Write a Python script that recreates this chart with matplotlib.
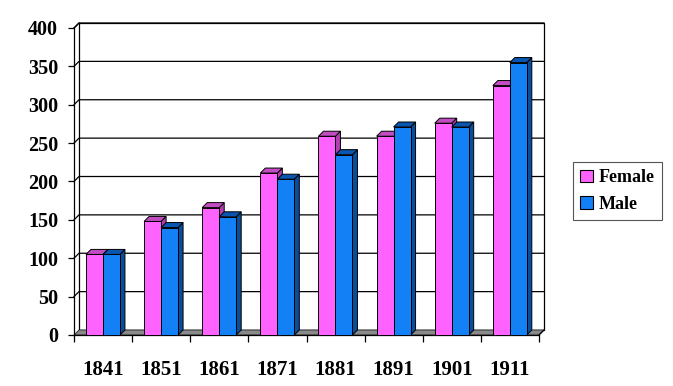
import matplotlib
matplotlib.use("Agg")
import matplotlib.pyplot as plt
from matplotlib.patches import Polygon, Patch

years = ["1841", "1851", "1861", "1871", "1881", "1891", "1901", "1911"]
female = [105, 148, 166, 211, 259, 259, 276, 325]
male = [105, 140, 154, 203, 235, 271, 271, 355]
yticks = [0, 50, 100, 150, 200, 250, 300, 350, 400]

W, H = 673, 386
fig = plt.figure(figsize=(W / 100, H / 100), dpi=100)
left_px, right_px, bot_px, top_px = 74, 539, 335, 28
ax = fig.add_axes([left_px / W, 1 - bot_px / H, (right_px - left_px) / W, (bot_px - top_px) / H])
n = len(years)
ymax = 400
ax.set_xlim(0, n)
ax.set_ylim(0, ymax)

# depth offsets in data units
dpx = 5.0
dx = dpx / (right_px - left_px) * n
dy = dpx / (bot_px - top_px) * ymax

font = "Liberation Serif"

# back wall
ax.add_patch(Polygon([(dx, dy), (n + dx, dy), (n + dx, ymax + dy), (dx, ymax + dy)],
                     closed=True, facecolor="white", edgecolor="black", lw=0.9, zorder=1, clip_on=False))
for v in yticks[1:]:
    ax.plot([0, dx, n + dx], [v, v + dy, v + dy], color="black", lw=0.9, zorder=1.5, clip_on=False)
# floor
ax.add_patch(Polygon([(0, 0), (n, 0), (n + dx, dy), (dx, dy)], closed=True,
                     facecolor="#8a8a8a", edgecolor="#333333", lw=0.7, zorder=2, clip_on=False))
ax.plot([0, dx], [ymax, ymax + dy], color="black", lw=0.9, zorder=2, clip_on=False)
ax.plot([n, n + dx], [0, dy], color="black", lw=0.9, zorder=2, clip_on=False)

bw = 17.0 / 58.2
off = 12.0 / 58.2
series = [
    (female, "#ff63ff", "#c24dc2", "#b040b0", 0),
    (male, "#1480f5", "#0a55b0", "#0a4d9c", 1),
]
for i in range(n):
    for vals, front, top, side, k in series:
        x0 = i + off + k * bw
        x1 = x0 + bw
        v = vals[i]
        z = 3 + i * 0.1 + k * 0.01
        ax.add_patch(Polygon([(x1, 0), (x1 + dx, dy), (x1 + dx, v + dy), (x1, v)], closed=True,
                             facecolor=side, edgecolor="black", lw=0.7, zorder=z, clip_on=False))
        ax.add_patch(Polygon([(x0, v), (x1, v), (x1 + dx, v + dy), (x0 + dx, v + dy)], closed=True,
                             facecolor=top, edgecolor="black", lw=0.7, zorder=z, clip_on=False))
        ax.add_patch(Polygon([(x0, 0), (x1, 0), (x1, v), (x0, v)], closed=True,
                             facecolor=front, edgecolor="black", lw=0.7, zorder=z + 0.005, clip_on=False))

for s in ["top", "right"]:
    ax.spines[s].set_visible(False)
ax.spines["left"].set_linewidth(0.9)
ax.spines["bottom"].set_linewidth(0.9)
ax.spines["left"].set_zorder(2.5)
ax.spines["bottom"].set_zorder(2.5)
ax.patch.set_visible(False)

ax.set_yticks(yticks)
ax.set_yticklabels([str(v) for v in yticks], fontfamily=font, fontweight="bold", fontsize=14.5)
ax.tick_params(axis="y", direction="out", length=4.5, width=0.9, pad=7)

ax.set_xticks(range(n + 1))
ax.set_xticklabels([])
ax.set_xticks([i + 0.5 for i in range(n)], minor=True)
ax.set_xticklabels(years, minor=True, fontfamily=font, fontweight="bold", fontsize=15)
ax.tick_params(axis="x", which="major", direction="out", length=5, width=0.9)
ax.tick_params(axis="x", which="minor", length=0, pad=18)

handles = [Patch(facecolor="#ff63ff", edgecolor="black", lw=0.8, label="Female"),
           Patch(facecolor="#1480f5", edgecolor="black", lw=0.8, label="Male")]
leg = fig.legend(handles=handles, loc="center", bbox_to_anchor=(617.5 / W, 1 - 191 / H),
                 prop={"family": font, "weight": "bold", "size": 13},
                 fancybox=False, frameon=True, edgecolor="#555555", framealpha=1,
                 handlelength=0.7, handleheight=0.7, handletextpad=0.3,
                 borderpad=0.4, labelspacing=0.5, borderaxespad=0)
leg.get_frame().set_linewidth(0.8)

fig.savefig("out.png", dpi=100)
